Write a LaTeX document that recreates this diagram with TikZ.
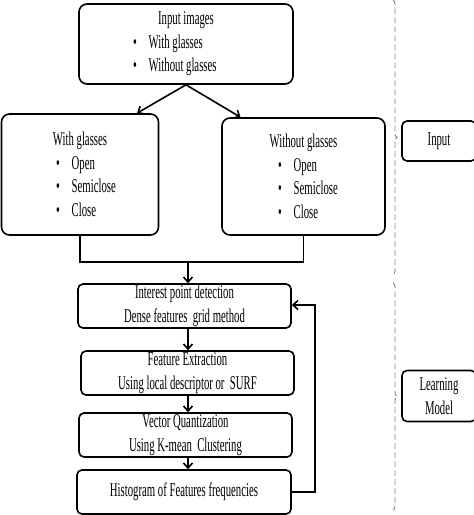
\documentclass[tikz,border=0pt]{standalone}
\usepackage{fontspec}
\setmainfont{Liberation Serif}[FakeStretch=0.55]
\usepackage{tikz}
\usetikzlibrary{positioning,arrows.meta,decorations.pathreplacing}

\newcommand{\bline}[2]{\makebox[#1][l]{\textbullet\hspace{12pt}#2}}

\tikzset{
  roundbox/.style={draw=black, line width=1.6pt, rounded corners=8pt, inner sep=0pt, align=center,
    font=\fontsize{19.5}{23.5}\selectfont},
  stagebox/.style={roundbox, rounded corners=5pt, minimum width=213pt, minimum height=44pt},
  sidebox/.style={roundbox, rounded corners=5pt, minimum width=74pt},
  arr/.style={black, line width=1.6pt, -{Straight Barb[length=5pt,width=9pt]}},
  link/.style={black, line width=1.6pt},
  bracket/.style={gray, line width=0.9pt, dash pattern=on 6pt off 3pt, decorate, decoration={brace, amplitude=4pt}}
}

\begin{document}
\begin{tikzpicture}[x=1pt, y=-1pt]
\useasboundingbox (0,0) rectangle (474,515);
% input stage
\node[roundbox, minimum width=214pt, minimum height=80pt] (inimg) at (186,44)
  {Input images\\ \bline{106pt}{With glasses}\\ \bline{106pt}{Without glasses}};
\node[roundbox, minimum width=157pt, minimum height=121pt] (wg) at (80,174.5)
  {With glasses\\ \bline{48pt}{Open}\\ \bline{48pt}{Semiclose}\\ \bline{48pt}{Close}};
\node[roundbox, minimum width=163pt, minimum height=117pt] (wog) at (303.5,176.5)
  {Without glasses\\ \bline{51pt}{Open}\\ \bline{51pt}{Semiclose}\\ \bline{51pt}{Close}};
\draw[arr] (inimg.south) -- ([xshift=57pt]wg.north);
\draw[arr] (inimg.south) -- ([xshift=-63pt]wog.north);
\draw[link] (wg.south) -- ++(0,26) coordinate (join) -| (wog.south);
\coordinate (merge) at (188,261);
% learning stage
\node[stagebox] (ipd) at (184.5,306) {Interest point detection\\ Dense features\ \ grid method};
\node[stagebox] (fe) at (187.5,373) {Feature Extraction\\ Using local descriptor or\ \ SURF};
\node[stagebox] (vq) at (185.5,435) {Vector Quantization\\ Using K-mean\ \ Clustering};
\node[stagebox, minimum width=214pt] (hist) at (184,492) {Histogram of Features frequencies};
\draw[arr] (merge) -- (merge |- ipd.north);
\draw[arr] (ipd.south -| merge) -- (fe.north -| merge);
\draw[arr] (fe.south -| merge) -- (vq.north -| merge);
\draw[arr] (vq.south -| merge) -- (hist.north -| merge);
\draw[arr] (hist.east) -- ++(23,0) |- ([yshift=1pt]ipd.east);
% phases
\node[sidebox, minimum height=40pt] (inp) at (439,141) {Input};
\node[sidebox, minimum height=51pt] (lm) at (439,396) {Learning\\ Model};
\draw[bracket] (393,0) -- (393,275);
\draw[bracket] (393,283) -- (393,510);
\end{tikzpicture}
\end{document}
